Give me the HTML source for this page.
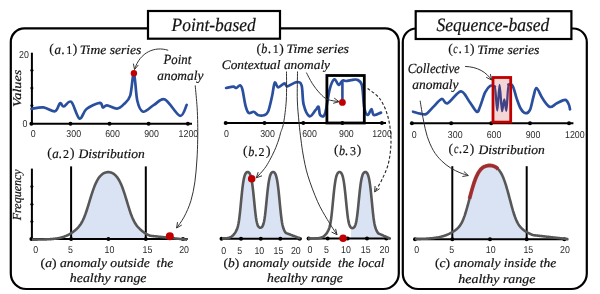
<!DOCTYPE html>
<html><head><meta charset="utf-8"><style>
html,body{margin:0;padding:0;background:#fff;}
svg{display:block;will-change:transform;}
.t{font-family:"Liberation Serif",serif;font-style:italic;fill:#111;stroke:#111;stroke-width:0.2px;}
.m{font-family:"Liberation Serif",serif;fill:#111;stroke:#111;stroke-width:0.16px;}
.n{font-family:"Liberation Sans",sans-serif;fill:#2a2a2a;}
svg text{text-rendering:geometricPrecision;white-space:pre;}
.u{font-style:normal;}
</style></head><body>
<svg width="600" height="294" viewBox="0 0 600 294">
<path d="M24.3,28.4 H385.3 A13.5,13.5 0 0 1 398.8,41.9 V273.5 A15.5,15.5 0 0 1 383.3,289.0 H26.3 A15.5,15.5 0 0 1 10.8,273.5 V41.9 A13.5,13.5 0 0 1 24.3,28.4 Z" fill="none" stroke="#000" stroke-width="2.2"/>
<path d="M416.3,28.5 H573.3 A13.5,13.5 0 0 1 586.8,42.0 V273.5 A15.5,15.5 0 0 1 571.3,289.0 H418.3 A15.5,15.5 0 0 1 402.8,273.5 V42.0 A13.5,13.5 0 0 1 416.3,28.5 Z" fill="none" stroke="#000" stroke-width="2.2"/>
<rect x="148" y="11" width="132" height="27.7" fill="#fff" stroke="#000" stroke-width="2.2"/>
<rect x="415.7" y="11.2" width="155.7" height="27.8" fill="#fff" stroke="#000" stroke-width="2.2"/>
<text x="171.5" y="31.2" font-size="18.8" class="t" textLength="84.3" lengthAdjust="spacingAndGlyphs">Point-based</text>
<text x="436.5" y="31.2" font-size="18.8" class="t" textLength="112.8" lengthAdjust="spacingAndGlyphs">Sequence-based</text>
<text x="49.20" y="52.90" font-size="13.5" class="m">(</text><text x="54.55" y="53.60" font-size="13.5" class="t" textLength="6.50" lengthAdjust="spacingAndGlyphs">a</text><text x="61.25" y="53.60" font-size="13.5" class="m">.</text><text x="66.21" y="53.60" font-size="12" class="m">1</text><text x="72.65" y="52.90" font-size="13.5" class="m">)</text>
<text x="79.8" y="53.7" font-size="13.0" class="t" textLength="61.6" lengthAdjust="spacingAndGlyphs">Time series</text>
<text transform="translate(21.1,106.9) rotate(-90)" font-size="11.8" class="t" textLength="37.3" lengthAdjust="spacingAndGlyphs">Values</text>
<line x1="31.9" y1="52.7" x2="31.9" y2="123.8" stroke="#000" stroke-width="2"/><circle cx="31.9" cy="70.3" r="1.5" fill="#000"/><circle cx="31.9" cy="88.0" r="1.5" fill="#000"/><circle cx="31.9" cy="105.6" r="1.5" fill="#000"/>
<line x1="31.4" y1="123.8" x2="192.0" y2="123.8" stroke="#000" stroke-width="2"/><circle cx="31.4" cy="123.8" r="2.0" fill="#000"/><circle cx="70.5" cy="123.8" r="2.0" fill="#000"/><circle cx="109.5" cy="123.8" r="2.0" fill="#000"/><circle cx="148.6" cy="123.8" r="2.0" fill="#000"/><circle cx="187.9" cy="123.8" r="2.0" fill="#000"/>
<text x="24.0" y="57.8" font-size="10.0" text-anchor="middle" class="n" textLength="9.8" lengthAdjust="spacingAndGlyphs">20</text>
<text x="25.0" y="126.9" font-size="10.0" text-anchor="middle" class="n" textLength="4.9" lengthAdjust="spacingAndGlyphs">0</text>
<text x="33.2" y="136.6" font-size="10.0" text-anchor="middle" class="n" textLength="4.9" lengthAdjust="spacingAndGlyphs">0</text>
<text x="73.7" y="136.6" font-size="10.0" text-anchor="middle" class="n" textLength="14.7" lengthAdjust="spacingAndGlyphs">300</text>
<text x="112.5" y="136.6" font-size="10.0" text-anchor="middle" class="n" textLength="14.7" lengthAdjust="spacingAndGlyphs">600</text>
<text x="151.5" y="136.6" font-size="10.0" text-anchor="middle" class="n" textLength="14.7" lengthAdjust="spacingAndGlyphs">900</text>
<text x="188.4" y="136.6" font-size="10.0" text-anchor="middle" class="n" textLength="19.6" lengthAdjust="spacingAndGlyphs">1200</text>
<path d="M31.5,108.8 C33.5,108.6 39.4,107.0 43.3,107.4 C47.2,107.8 52.2,112.0 55.0,111.3 C57.8,110.6 58.5,104.0 60.0,103.2 C61.5,102.4 61.8,106.7 63.7,106.5 C65.6,106.3 68.6,99.8 71.2,101.8 C73.8,103.8 76.9,117.3 79.4,118.5 C82.0,119.7 83.1,111.6 86.5,109.0 C89.9,106.4 97.1,103.2 99.8,102.9 C102.5,102.7 101.7,107.1 102.9,107.5 C104.1,107.9 104.7,105.1 107.0,105.3 C109.3,105.5 114.2,108.8 117.0,108.6 C119.8,108.4 121.9,106.1 124.1,103.9 C126.3,101.8 128.6,100.8 130.2,95.7 C131.8,90.6 132.7,72.5 133.9,73.3 C135.1,74.1 135.8,94.4 137.3,100.8 C138.8,107.2 140.3,111.0 143.1,111.7 C145.9,112.4 150.4,106.9 154.0,104.9 C157.6,102.9 160.6,97.7 164.9,99.5 C169.2,101.3 176.3,114.9 179.9,115.8 C183.5,116.7 185.6,106.7 186.7,104.9" fill="none" stroke="#2a4f9e" stroke-width="2.7" stroke-linejoin="round" stroke-linecap="round"/>
<circle cx="133.9" cy="73.3" r="3.2" fill="#c00000"/>
<text x="163.5" y="64.4" font-size="14.0" class="t" textLength="27.7" lengthAdjust="spacingAndGlyphs">Point</text>
<text x="157.3" y="80.4" font-size="13.5" class="t" textLength="46.1" lengthAdjust="spacingAndGlyphs">anomaly</text>
<text x="47.20" y="156.90" font-size="13.5" class="m">(</text><text x="52.25" y="157.60" font-size="13.5" class="t" textLength="6.50" lengthAdjust="spacingAndGlyphs">a</text><text x="58.55" y="157.60" font-size="13.5" class="m">.</text><text x="62.96" y="157.60" font-size="12" class="m">2</text><text x="69.95" y="156.90" font-size="13.5" class="m">)</text>
<text x="78.4" y="158.0" font-size="13.0" class="t" textLength="66.4" lengthAdjust="spacingAndGlyphs">Distribution</text>
<text transform="translate(20.6,220.2) rotate(-90)" font-size="12.3" class="t" textLength="50.8" lengthAdjust="spacingAndGlyphs">Frequency</text>
<path d="M71.5,233.0 L72.0,232.7 L72.5,232.3 L73.0,232.0 L73.5,231.6 L74.0,231.2 L74.5,230.8 L75.0,230.4 L75.5,230.0 L76.0,229.6 L76.5,229.1 L77.0,228.6 L77.5,228.1 L78.0,227.6 L78.5,227.0 L79.0,226.4 L79.5,225.8 L80.0,225.1 L80.5,224.4 L81.0,223.7 L81.5,222.8 L82.0,222.0 L82.5,221.0 L83.0,220.0 L83.5,218.9 L84.0,217.8 L84.5,216.5 L85.0,215.2 L85.5,213.9 L86.0,212.5 L86.5,211.0 L87.0,209.5 L87.5,207.9 L88.0,206.3 L88.5,204.7 L89.0,203.0 L89.5,201.3 L90.0,199.7 L90.5,198.1 L91.0,196.4 L91.5,194.9 L92.0,193.3 L92.5,191.8 L93.0,190.3 L93.5,188.9 L94.0,187.6 L94.5,186.3 L95.0,185.1 L95.5,183.9 L96.0,182.8 L96.5,181.8 L97.0,180.8 L97.5,179.9 L98.0,179.1 L98.5,178.3 L99.0,177.6 L99.5,176.9 L100.0,176.3 L100.5,175.8 L101.0,175.3 L101.5,174.8 L102.0,174.4 L102.5,174.0 L103.0,173.7 L103.5,173.4 L104.0,173.1 L104.5,172.9 L105.0,172.7 L105.5,172.5 L106.0,172.4 L106.5,172.3 L107.0,172.2 L107.5,172.1 L108.0,172.1 L108.5,172.1 L109.0,172.1 L109.5,172.2 L110.0,172.3 L110.5,172.4 L111.0,172.5 L111.5,172.7 L112.0,172.9 L112.5,173.2 L113.0,173.4 L113.5,173.7 L114.0,174.1 L114.5,174.5 L115.0,174.9 L115.5,175.4 L116.0,175.9 L116.5,176.5 L117.0,177.1 L117.5,177.7 L118.0,178.5 L118.5,179.3 L119.0,180.1 L119.5,181.0 L120.0,182.0 L120.5,183.0 L121.0,184.1 L121.5,185.3 L122.0,186.5 L122.5,187.8 L123.0,189.2 L123.5,190.6 L124.0,192.1 L124.5,193.6 L125.0,195.2 L125.5,196.8 L126.0,198.4 L126.5,200.0 L127.0,201.7 L127.5,203.3 L128.0,205.0 L128.5,206.6 L129.0,208.2 L129.5,209.8 L130.0,211.3 L130.5,212.8 L131.0,214.2 L131.5,215.5 L132.0,216.8 L132.5,218.0 L133.0,219.1 L133.5,220.2 L134.0,221.2 L134.5,222.1 L135.0,223.0 L135.5,223.8 L136.0,224.6 L136.5,225.3 L137.0,225.9 L137.5,226.6 L138.0,227.1 L138.5,227.7 L139.0,228.2 L139.5,228.7 L140.0,229.2 L140.5,229.6 L141.0,230.1 L141.5,230.5 L142.0,230.9 L142.5,231.3 L143.0,231.7 L143.5,232.1 L144.0,232.4 L144.5,232.8 L145.0,233.1 L145.5,233.4 L145.5,239.0 L71.5,239.0 Z" fill="#dae3f3" stroke="none"/>
<line x1="31.9" y1="168.6" x2="31.9" y2="238.5" stroke="#000" stroke-width="2"/><circle cx="31.9" cy="186.5" r="1.5" fill="#000"/><circle cx="31.9" cy="204.3" r="1.5" fill="#000"/><circle cx="31.9" cy="221.6" r="1.5" fill="#000"/>
<line x1="71.1" y1="166.4" x2="71.1" y2="239" stroke="#000" stroke-width="2"/>
<line x1="145.8" y1="166.4" x2="145.8" y2="239" stroke="#000" stroke-width="2"/>
<line x1="31.4" y1="239.1" x2="187.7" y2="239.1" stroke="#000" stroke-width="2"/><circle cx="31.4" cy="239.1" r="2.0" fill="#000"/><circle cx="71.1" cy="239.1" r="2.0" fill="#000"/><circle cx="108.4" cy="239.1" r="2.0" fill="#000"/><circle cx="145.8" cy="239.1" r="2.0" fill="#000"/><circle cx="183.0" cy="239.1" r="2.0" fill="#000"/>
<path d="M32.0,239.6 L32.5,239.6 L33.0,239.6 L33.5,239.6 L34.0,239.6 L34.5,239.6 L35.0,239.6 L35.5,239.6 L36.0,239.6 L36.5,239.6 L37.0,239.6 L37.5,239.6 L38.0,239.5 L38.5,239.5 L39.0,239.5 L39.5,239.5 L40.0,239.5 L40.5,239.5 L41.0,239.5 L41.5,239.5 L42.0,239.5 L42.5,239.5 L43.0,239.5 L43.5,239.5 L44.0,239.4 L44.5,239.4 L45.0,239.4 L45.5,239.4 L46.0,239.4 L46.5,239.4 L47.0,239.3 L47.5,239.3 L48.0,239.3 L48.5,239.3 L49.0,239.2 L49.5,239.2 L50.0,239.2 L50.5,239.1 L51.0,239.1 L51.5,239.1 L52.0,239.0 L52.5,239.0 L53.0,238.9 L53.5,238.9 L54.0,238.8 L54.5,238.8 L55.0,238.7 L55.5,238.6 L56.0,238.6 L56.5,238.5 L57.0,238.4 L57.5,238.3 L58.0,238.2 L58.5,238.2 L59.0,238.1 L59.5,237.9 L60.0,237.8 L60.5,237.7 L61.0,237.6 L61.5,237.5 L62.0,237.3 L62.5,237.2 L63.0,237.0 L63.5,236.9 L64.0,236.7 L64.5,236.5 L65.0,236.3 L65.5,236.1 L66.0,235.9 L66.5,235.7 L67.0,235.5 L67.5,235.3 L68.0,235.0 L68.5,234.8 L69.0,234.5 L69.5,234.2 L70.0,233.9 L70.5,233.6 L71.0,233.3 L71.5,233.0 L72.0,232.7 L72.5,232.3 L73.0,232.0 L73.5,231.6 L74.0,231.2 L74.5,230.8 L75.0,230.4 L75.5,230.0 L76.0,229.6 L76.5,229.1 L77.0,228.6 L77.5,228.1 L78.0,227.6 L78.5,227.0 L79.0,226.4 L79.5,225.8 L80.0,225.1 L80.5,224.4 L81.0,223.7 L81.5,222.8 L82.0,222.0 L82.5,221.0 L83.0,220.0 L83.5,218.9 L84.0,217.8 L84.5,216.5 L85.0,215.2 L85.5,213.9 L86.0,212.5 L86.5,211.0 L87.0,209.5 L87.5,207.9 L88.0,206.3 L88.5,204.7 L89.0,203.0 L89.5,201.3 L90.0,199.7 L90.5,198.1 L91.0,196.4 L91.5,194.9 L92.0,193.3 L92.5,191.8 L93.0,190.3 L93.5,188.9 L94.0,187.6 L94.5,186.3 L95.0,185.1 L95.5,183.9 L96.0,182.8 L96.5,181.8 L97.0,180.8 L97.5,179.9 L98.0,179.1 L98.5,178.3 L99.0,177.6 L99.5,176.9 L100.0,176.3 L100.5,175.8 L101.0,175.3 L101.5,174.8 L102.0,174.4 L102.5,174.0 L103.0,173.7 L103.5,173.4 L104.0,173.1 L104.5,172.9 L105.0,172.7 L105.5,172.5 L106.0,172.4 L106.5,172.3 L107.0,172.2 L107.5,172.1 L108.0,172.1 L108.5,172.1 L109.0,172.1 L109.5,172.2 L110.0,172.3 L110.5,172.4 L111.0,172.5 L111.5,172.7 L112.0,172.9 L112.5,173.2 L113.0,173.4 L113.5,173.7 L114.0,174.1 L114.5,174.5 L115.0,174.9 L115.5,175.4 L116.0,175.9 L116.5,176.5 L117.0,177.1 L117.5,177.7 L118.0,178.5 L118.5,179.3 L119.0,180.1 L119.5,181.0 L120.0,182.0 L120.5,183.0 L121.0,184.1 L121.5,185.3 L122.0,186.5 L122.5,187.8 L123.0,189.2 L123.5,190.6 L124.0,192.1 L124.5,193.6 L125.0,195.2 L125.5,196.8 L126.0,198.4 L126.5,200.0 L127.0,201.7 L127.5,203.3 L128.0,205.0 L128.5,206.6 L129.0,208.2 L129.5,209.8 L130.0,211.3 L130.5,212.8 L131.0,214.2 L131.5,215.5 L132.0,216.8 L132.5,218.0 L133.0,219.1 L133.5,220.2 L134.0,221.2 L134.5,222.1 L135.0,223.0 L135.5,223.8 L136.0,224.6 L136.5,225.3 L137.0,225.9 L137.5,226.6 L138.0,227.1 L138.5,227.7 L139.0,228.2 L139.5,228.7 L140.0,229.2 L140.5,229.6 L141.0,230.1 L141.5,230.5 L142.0,230.9 L142.5,231.3 L143.0,231.7 L143.5,232.1 L144.0,232.4 L144.5,232.8 L145.0,233.1 L145.5,233.4 L146.0,233.7 L146.5,234.0 L147.0,234.3 L147.5,234.6 L148.0,234.8 L148.5,235.1 L149.0,235.3 L149.5,235.5 L150.0,235.7 L150.5,235.8 L151.0,235.8 L151.5,235.9 L152.0,236.0 L152.5,236.0 L153.0,236.1 L153.5,236.1 L154.0,236.2 L154.5,236.2 L155.0,236.3 L155.5,236.3 L156.0,236.4 L156.5,236.4 L157.0,236.5 L157.5,236.5 L158.0,236.6 L158.5,236.7 L159.0,236.7 L159.5,236.8 L160.0,236.8 L160.5,236.9 L161.0,236.9 L161.5,237.0 L162.0,237.0 L162.5,237.1 L163.0,237.1 L163.5,237.2 L164.0,237.2 L164.5,237.3 L165.0,237.3 L165.5,237.4 L166.0,237.5 L166.5,237.5 L167.0,237.6 L167.5,237.6 L168.0,237.7 L168.5,237.7 L169.0,237.8 L169.5,237.8 L170.0,237.9 L170.5,237.9 L171.0,238.0 L171.5,238.0 L172.0,238.1 L172.5,238.2 L173.0,238.2 L173.5,238.3 L174.0,238.3 L174.5,238.4 L175.0,238.4 L175.5,238.5 L176.0,238.5 L176.5,238.6 L177.0,238.6 L177.5,238.7 L178.0,238.7 L178.5,238.8 L179.0,238.8 L179.5,238.9 L180.0,239.0 L180.5,239.0 L181.0,239.1 L181.5,239.1 L182.0,239.2 L182.5,239.2 L183.0,239.3 L183.5,239.3 L184.0,239.4 L184.5,239.4 L185.0,239.5 L185.5,239.5 L186.0,239.6 L186.5,239.6 L187.0,239.6" fill="none" stroke="#575757" stroke-width="2.6" stroke-linejoin="round"/>
<circle cx="169.8" cy="236.2" r="4" fill="#c00000"/>
<text x="35.6" y="253.2" font-size="10.0" text-anchor="middle" class="n" textLength="4.9" lengthAdjust="spacingAndGlyphs">0</text>
<text x="70.4" y="253.2" font-size="10.0" text-anchor="middle" class="n" textLength="4.9" lengthAdjust="spacingAndGlyphs">5</text>
<text x="109.4" y="253.2" font-size="10.0" text-anchor="middle" class="n" textLength="9.8" lengthAdjust="spacingAndGlyphs">10</text>
<text x="147.5" y="253.2" font-size="10.0" text-anchor="middle" class="n" textLength="9.8" lengthAdjust="spacingAndGlyphs">15</text>
<text x="184.1" y="253.2" font-size="10.0" text-anchor="middle" class="n" textLength="9.8" lengthAdjust="spacingAndGlyphs">20</text>
<text x="40.6" y="266.5" font-size="12.5" class="t" textLength="132.7" lengthAdjust="spacingAndGlyphs"><tspan class="u">(</tspan>a<tspan class="u">)</tspan> anomaly outside  the</text>
<text x="69.8" y="282.2" font-size="12.5" class="t" textLength="76.7" lengthAdjust="spacingAndGlyphs">healthy range</text>
<text x="256.60" y="52.60" font-size="13.5" class="m">(</text><text x="261.33" y="53.30" font-size="13.5" class="t" textLength="6.10" lengthAdjust="spacingAndGlyphs">b</text><text x="267.85" y="53.30" font-size="13.5" class="m">.</text><text x="272.81" y="53.30" font-size="12" class="m">1</text><text x="279.25" y="52.60" font-size="13.5" class="m">)</text>
<text x="286.6" y="53.2" font-size="13.0" class="t" textLength="62.4" lengthAdjust="spacingAndGlyphs">Time series</text>
<text x="221.7" y="68.7" font-size="13.0" class="t" textLength="108.4" lengthAdjust="spacingAndGlyphs">Contextual anomaly</text>
<line x1="225.7" y1="123.1" x2="386.0" y2="123.1" stroke="#000" stroke-width="2"/><circle cx="225.7" cy="123.1" r="2.0" fill="#000"/><circle cx="264.5" cy="123.1" r="2.0" fill="#000"/><circle cx="303.3" cy="123.1" r="2.0" fill="#000"/><circle cx="342.4" cy="123.1" r="2.0" fill="#000"/><circle cx="381.9" cy="123.1" r="2.0" fill="#000"/>
<text x="226.4" y="137.1" font-size="10.0" text-anchor="middle" class="n" textLength="4.9" lengthAdjust="spacingAndGlyphs">0</text>
<text x="267.5" y="137.1" font-size="10.0" text-anchor="middle" class="n" textLength="14.7" lengthAdjust="spacingAndGlyphs">300</text>
<text x="309.5" y="137.1" font-size="10.0" text-anchor="middle" class="n" textLength="14.7" lengthAdjust="spacingAndGlyphs">600</text>
<text x="346.4" y="137.1" font-size="10.0" text-anchor="middle" class="n" textLength="14.7" lengthAdjust="spacingAndGlyphs">900</text>
<text x="382.0" y="137.1" font-size="10.0" text-anchor="middle" class="n" textLength="19.6" lengthAdjust="spacingAndGlyphs">1200</text>
<path d="M226.1,88.0 C227.3,87.8 231.6,86.7 233.3,86.7 C235.0,86.7 235.2,88.2 236.3,88.0 C237.4,87.8 239.0,85.1 240.0,85.3 C241.0,85.5 241.5,86.0 242.4,89.4 C243.3,92.8 244.5,101.8 245.5,105.7 C246.5,109.6 247.2,111.9 248.6,112.9 C250.0,113.9 252.2,111.5 253.7,111.8 C255.2,112.1 256.1,114.3 257.8,114.9 C259.5,115.5 262.2,115.8 263.9,115.3 C265.6,114.8 266.6,114.9 268.0,111.8 C269.4,108.7 270.9,101.3 272.0,96.5 C273.1,91.7 273.7,84.2 274.7,82.7 C275.7,81.2 276.6,87.2 278.2,87.3 C279.8,87.4 282.8,83.5 284.3,83.3 C285.8,83.1 285.3,86.5 287.3,86.3 C289.3,86.1 294.1,82.4 296.5,82.2 C298.9,82.0 300.4,81.6 301.6,85.3 C302.8,89.0 302.3,99.1 303.6,104.3 C304.9,109.5 307.5,115.2 309.5,116.2 C311.5,117.2 314.0,111.8 315.5,110.2 C317.0,108.6 317.8,105.9 318.6,106.7 C319.4,107.5 319.1,113.8 320.2,115.0 C321.3,116.2 323.4,118.2 325.0,113.8 C326.6,109.4 328.2,94.5 329.8,88.8 C331.4,83.0 333.0,79.9 334.5,79.3 C336.0,78.7 337.3,84.8 338.6,85.0 C339.9,85.2 341.1,81.3 342.4,80.6 C343.7,79.9 345.0,81.1 346.4,81.0 C347.8,80.9 349.2,80.4 351.0,80.2 C352.8,80.0 355.3,79.0 357.1,79.8 C358.9,80.6 360.7,80.5 361.9,85.2 C363.1,89.9 363.3,102.9 364.3,107.9 C365.3,112.9 366.7,114.8 367.9,115.0 C369.1,115.2 370.4,109.0 371.4,109.0 C372.4,109.0 372.2,114.4 373.8,115.0 C375.4,115.6 379.8,113.0 381.0,112.6" fill="none" stroke="#2a4f9e" stroke-width="2.7" stroke-linejoin="round" stroke-linecap="round"/>
<path d="M342.4,82 L342.4,101" fill="none" stroke="#2a4f9e" stroke-width="2.6" stroke-linecap="round"/>
<rect x="326.9" y="75.5" width="37.4" height="47.5" fill="none" stroke="#000" stroke-width="2.8"/>
<circle cx="342.4" cy="102.4" r="3.4" fill="#c00000"/>
<text x="242.90" y="154.90" font-size="13.5" class="m">(</text><text x="248.33" y="155.60" font-size="13.5" class="t" textLength="6.10" lengthAdjust="spacingAndGlyphs">b</text><text x="254.25" y="155.60" font-size="13.5" class="m">.</text><text x="258.56" y="155.60" font-size="12" class="m">2</text><text x="265.95" y="154.90" font-size="13.5" class="m">)</text>
<path d="M222.0,238.5 L222.5,238.5 L223.0,238.4 L223.5,238.4 L224.0,238.4 L224.5,238.4 L225.0,238.4 L225.5,238.3 L226.0,238.3 L226.5,238.2 L227.0,238.2 L227.5,238.1 L228.0,238.0 L228.5,237.9 L229.0,237.7 L229.5,237.6 L230.0,237.4 L230.5,237.1 L231.0,236.9 L231.5,236.6 L232.0,236.2 L232.5,235.8 L233.0,235.3 L233.5,234.8 L234.0,234.2 L234.5,233.6 L235.0,232.9 L235.5,232.1 L236.0,231.2 L236.5,230.2 L237.0,229.1 L237.5,227.7 L238.0,225.8 L238.5,223.5 L239.0,220.5 L239.5,216.7 L240.0,212.3 L240.5,207.3 L241.0,202.1 L241.5,197.0 L242.0,192.1 L242.5,187.7 L243.0,183.8 L243.5,180.7 L244.0,178.1 L244.5,176.2 L245.0,174.7 L245.5,173.6 L246.0,172.9 L246.5,172.4 L247.0,172.1 L247.5,172.0 L248.0,172.0 L248.5,172.2 L249.0,172.6 L249.5,173.2 L250.0,174.1 L250.5,175.4 L251.0,177.1 L251.5,179.4 L252.0,182.2 L252.5,185.7 L253.0,189.8 L253.5,194.5 L254.0,199.4 L254.5,204.5 L255.0,209.4 L255.5,213.9 L256.0,217.7 L256.5,220.7 L257.0,223.0 L257.5,224.7 L258.0,225.9 L258.5,226.6 L259.0,227.2 L259.5,227.5 L260.0,227.7 L260.5,227.7 L261.0,227.6 L261.5,227.3 L262.0,226.9 L262.5,226.2 L263.0,225.2 L263.5,223.8 L264.0,221.7 L264.5,219.0 L265.0,215.5 L265.5,211.3 L266.0,206.5 L266.5,201.5 L267.0,196.4 L267.5,191.6 L268.0,187.3 L268.5,183.5 L269.0,180.4 L269.5,178.0 L270.0,176.0 L270.5,174.6 L271.0,173.5 L271.5,172.8 L272.0,172.3 L272.5,172.1 L273.0,172.0 L273.5,172.0 L274.0,172.2 L274.5,172.7 L275.0,173.3 L275.5,174.2 L276.0,175.5 L276.5,177.3 L277.0,179.6 L277.5,182.5 L278.0,186.1 L278.5,190.2 L279.0,195.0 L279.5,200.1 L280.0,205.3 L280.5,210.3 L281.0,215.0 L281.5,219.0 L282.0,222.4 L282.5,225.0 L283.0,227.0 L283.5,228.6 L284.0,229.8 L284.5,230.9 L285.0,231.8 L285.5,232.6 L286.0,233.0 L286.5,233.2 L287.0,233.4 L287.5,233.6 L288.0,233.8 L288.5,234.0 L289.0,234.1 L289.5,234.3 L290.0,234.5 L290.5,234.7 L291.0,234.9 L291.5,235.1 L292.0,235.3 L292.5,235.5 L293.0,235.7 L293.5,235.9 L294.0,236.0 L294.5,236.2 L295.0,236.4 L295.5,236.6 L296.0,236.8 L296.5,237.0 L297.0,237.2 L297.5,237.4 L298.0,237.6 L298.5,237.7 L299.0,237.9 L299.5,238.1 L300.0,238.3 L300.5,238.5 L300.5,238.5 L222.0,238.5 Z" fill="#dae3f3" stroke="none"/>
<line x1="221.0" y1="238.8" x2="301.7" y2="238.8" stroke="#000" stroke-width="2"/><circle cx="221.5" cy="238.8" r="2.0" fill="#000"/><circle cx="241.0" cy="238.8" r="2.0" fill="#000"/><circle cx="260.8" cy="238.8" r="2.0" fill="#000"/><circle cx="280.3" cy="238.8" r="2.0" fill="#000"/><circle cx="299.6" cy="238.8" r="2.0" fill="#000"/>
<path d="M222.0,238.5 L222.5,238.5 L223.0,238.4 L223.5,238.4 L224.0,238.4 L224.5,238.4 L225.0,238.4 L225.5,238.3 L226.0,238.3 L226.5,238.2 L227.0,238.2 L227.5,238.1 L228.0,238.0 L228.5,237.9 L229.0,237.7 L229.5,237.6 L230.0,237.4 L230.5,237.1 L231.0,236.9 L231.5,236.6 L232.0,236.2 L232.5,235.8 L233.0,235.3 L233.5,234.8 L234.0,234.2 L234.5,233.6 L235.0,232.9 L235.5,232.1 L236.0,231.2 L236.5,230.2 L237.0,229.1 L237.5,227.7 L238.0,225.8 L238.5,223.5 L239.0,220.5 L239.5,216.7 L240.0,212.3 L240.5,207.3 L241.0,202.1 L241.5,197.0 L242.0,192.1 L242.5,187.7 L243.0,183.8 L243.5,180.7 L244.0,178.1 L244.5,176.2 L245.0,174.7 L245.5,173.6 L246.0,172.9 L246.5,172.4 L247.0,172.1 L247.5,172.0 L248.0,172.0 L248.5,172.2 L249.0,172.6 L249.5,173.2 L250.0,174.1 L250.5,175.4 L251.0,177.1 L251.5,179.4 L252.0,182.2 L252.5,185.7 L253.0,189.8 L253.5,194.5 L254.0,199.4 L254.5,204.5 L255.0,209.4 L255.5,213.9 L256.0,217.7 L256.5,220.7 L257.0,223.0 L257.5,224.7 L258.0,225.9 L258.5,226.6 L259.0,227.2 L259.5,227.5 L260.0,227.7 L260.5,227.7 L261.0,227.6 L261.5,227.3 L262.0,226.9 L262.5,226.2 L263.0,225.2 L263.5,223.8 L264.0,221.7 L264.5,219.0 L265.0,215.5 L265.5,211.3 L266.0,206.5 L266.5,201.5 L267.0,196.4 L267.5,191.6 L268.0,187.3 L268.5,183.5 L269.0,180.4 L269.5,178.0 L270.0,176.0 L270.5,174.6 L271.0,173.5 L271.5,172.8 L272.0,172.3 L272.5,172.1 L273.0,172.0 L273.5,172.0 L274.0,172.2 L274.5,172.7 L275.0,173.3 L275.5,174.2 L276.0,175.5 L276.5,177.3 L277.0,179.6 L277.5,182.5 L278.0,186.1 L278.5,190.2 L279.0,195.0 L279.5,200.1 L280.0,205.3 L280.5,210.3 L281.0,215.0 L281.5,219.0 L282.0,222.4 L282.5,225.0 L283.0,227.0 L283.5,228.6 L284.0,229.8 L284.5,230.9 L285.0,231.8 L285.5,232.6 L286.0,233.0 L286.5,233.2 L287.0,233.4 L287.5,233.6 L288.0,233.8 L288.5,234.0 L289.0,234.1 L289.5,234.3 L290.0,234.5 L290.5,234.7 L291.0,234.9 L291.5,235.1 L292.0,235.3 L292.5,235.5 L293.0,235.7 L293.5,235.9 L294.0,236.0 L294.5,236.2 L295.0,236.4 L295.5,236.6 L296.0,236.8 L296.5,237.0 L297.0,237.2 L297.5,237.4 L298.0,237.6 L298.5,237.7 L299.0,237.9 L299.5,238.1 L300.0,238.3 L300.5,238.5" fill="none" stroke="#575757" stroke-width="2.6" stroke-linejoin="round"/>
<circle cx="251.7" cy="178.7" r="3.8" fill="#c00000"/>
<text x="223.7" y="253.5" font-size="10.0" text-anchor="middle" class="n" textLength="4.9" lengthAdjust="spacingAndGlyphs">0</text>
<text x="239.6" y="253.5" font-size="10.0" text-anchor="middle" class="n" textLength="4.9" lengthAdjust="spacingAndGlyphs">5</text>
<text x="259.3" y="253.5" font-size="10.0" text-anchor="middle" class="n" textLength="9.8" lengthAdjust="spacingAndGlyphs">10</text>
<text x="278.4" y="253.5" font-size="10.0" text-anchor="middle" class="n" textLength="9.8" lengthAdjust="spacingAndGlyphs">15</text>
<text x="295.8" y="253.5" font-size="10.0" text-anchor="middle" class="n" textLength="9.8" lengthAdjust="spacingAndGlyphs">20</text>
<text x="333.90" y="154.20" font-size="13.5" class="m">(</text><text x="339.03" y="154.90" font-size="13.5" class="t" textLength="6.10" lengthAdjust="spacingAndGlyphs">b</text><text x="344.85" y="154.90" font-size="13.5" class="m">.</text><text x="349.96" y="154.90" font-size="12" class="m">3</text><text x="356.65" y="154.20" font-size="13.5" class="m">)</text>
<path d="M351.0,227.6 L351.5,227.9 L352.0,228.1 L352.5,228.1 L353.0,228.0 L353.5,227.8 L354.0,227.4 L354.5,226.8 L355.0,225.9 L355.5,224.6 L356.0,222.8 L356.5,220.3 L357.0,217.1 L357.5,213.1 L358.0,208.6 L358.5,203.6 L359.0,198.5 L359.5,193.6 L360.0,189.0 L360.5,185.0 L361.0,181.6 L361.5,178.9 L362.0,176.8 L362.5,175.1 L363.0,173.9 L363.5,173.1 L364.0,172.5 L364.5,172.2 L365.0,172.0 L365.5,172.0 L366.0,172.1 L366.5,172.5 L367.0,173.0 L367.5,173.8 L368.0,175.0 L368.5,176.5 L369.0,178.6 L369.5,181.3 L370.0,184.6 L370.5,188.5 L371.0,193.0 L371.5,198.0 L372.0,203.2 L372.5,208.4 L373.0,213.2 L373.5,217.5 L374.0,221.1 L374.5,224.0 L375.0,226.2 L375.5,228.0 L376.0,229.3 L376.5,230.5 L377.0,231.4 L377.5,232.3 L378.0,233.0 L378.5,233.5 L379.0,233.7 L379.5,233.9 L380.0,234.1 L380.5,234.3 L381.0,234.6 L381.5,234.8 L382.0,235.0 L382.5,235.2 L383.0,235.4 L383.5,235.7 L384.0,235.9 L384.5,236.1 L385.0,236.3 L385.5,236.5 L386.0,236.8 L386.5,237.0 L387.0,237.2 L387.5,237.4 L388.0,237.6 L388.5,237.8 L389.0,238.1 L389.5,238.3 L390.0,238.5 L390.0,238.5 L351.0,238.5 Z" fill="#dae3f3" stroke="none"/>
<line x1="308.1" y1="238.5" x2="390.7" y2="238.5" stroke="#000" stroke-width="2"/><circle cx="308.6" cy="238.5" r="2.0" fill="#000"/><circle cx="327.7" cy="238.5" r="2.0" fill="#000"/><circle cx="347.6" cy="238.5" r="2.0" fill="#000"/><circle cx="367.0" cy="238.5" r="2.0" fill="#000"/><circle cx="386.3" cy="238.5" r="2.0" fill="#000"/>
<path d="M308.0,238.5 L308.5,238.5 L309.0,238.5 L309.5,238.5 L310.0,238.5 L310.5,238.5 L311.0,238.5 L311.5,238.5 L312.0,238.5 L312.5,238.5 L313.0,238.5 L313.5,238.5 L314.0,238.5 L314.5,238.5 L315.0,238.4 L315.5,238.4 L316.0,238.4 L316.5,238.4 L317.0,238.4 L317.5,238.3 L318.0,238.3 L318.5,238.2 L319.0,238.1 L319.5,238.1 L320.0,238.0 L320.5,237.8 L321.0,237.7 L321.5,237.5 L322.0,237.3 L322.5,237.1 L323.0,236.8 L323.5,236.5 L324.0,236.1 L324.5,235.7 L325.0,235.2 L325.5,234.7 L326.0,234.1 L326.5,233.5 L327.0,232.7 L327.5,231.9 L328.0,231.0 L328.5,230.0 L329.0,228.8 L329.5,227.3 L330.0,225.4 L330.5,222.9 L331.0,219.8 L331.5,215.9 L332.0,211.3 L332.5,206.3 L333.0,201.1 L333.5,196.0 L334.0,191.2 L334.5,186.8 L335.0,183.2 L335.5,180.1 L336.0,177.7 L336.5,175.8 L337.0,174.5 L337.5,173.5 L338.0,172.8 L338.5,172.3 L339.0,172.1 L339.5,172.0 L340.0,172.0 L340.5,172.3 L341.0,172.7 L341.5,173.4 L342.0,174.4 L342.5,175.7 L343.0,177.5 L343.5,179.9 L344.0,182.9 L344.5,186.5 L345.0,190.8 L345.5,195.5 L346.0,200.5 L346.5,205.6 L347.0,210.4 L347.5,214.8 L348.0,218.5 L348.5,221.4 L349.0,223.6 L349.5,225.2 L350.0,226.3 L350.5,227.1 L351.0,227.6 L351.5,227.9 L352.0,228.1 L352.5,228.1 L353.0,228.0 L353.5,227.8 L354.0,227.4 L354.5,226.8 L355.0,225.9 L355.5,224.6 L356.0,222.8 L356.5,220.3 L357.0,217.1 L357.5,213.1 L358.0,208.6 L358.5,203.6 L359.0,198.5 L359.5,193.6 L360.0,189.0 L360.5,185.0 L361.0,181.6 L361.5,178.9 L362.0,176.8 L362.5,175.1 L363.0,173.9 L363.5,173.1 L364.0,172.5 L364.5,172.2 L365.0,172.0 L365.5,172.0 L366.0,172.1 L366.5,172.5 L367.0,173.0 L367.5,173.8 L368.0,175.0 L368.5,176.5 L369.0,178.6 L369.5,181.3 L370.0,184.6 L370.5,188.5 L371.0,193.0 L371.5,198.0 L372.0,203.2 L372.5,208.4 L373.0,213.2 L373.5,217.5 L374.0,221.1 L374.5,224.0 L375.0,226.2 L375.5,228.0 L376.0,229.3 L376.5,230.5 L377.0,231.4 L377.5,232.3 L378.0,233.0 L378.5,233.5 L379.0,233.7 L379.5,233.9 L380.0,234.1 L380.5,234.3 L381.0,234.6 L381.5,234.8 L382.0,235.0 L382.5,235.2 L383.0,235.4 L383.5,235.7 L384.0,235.9 L384.5,236.1 L385.0,236.3 L385.5,236.5 L386.0,236.8 L386.5,237.0 L387.0,237.2 L387.5,237.4 L388.0,237.6 L388.5,237.8 L389.0,238.1 L389.5,238.3 L390.0,238.5" fill="none" stroke="#575757" stroke-width="2.6" stroke-linejoin="round"/>
<circle cx="343.1" cy="238.2" r="3.8" fill="#c00000"/>
<text x="310.0" y="252.5" font-size="10.0" text-anchor="middle" class="n" textLength="4.9" lengthAdjust="spacingAndGlyphs">0</text>
<text x="326.5" y="252.5" font-size="10.0" text-anchor="middle" class="n" textLength="4.9" lengthAdjust="spacingAndGlyphs">5</text>
<text x="346.0" y="252.5" font-size="10.0" text-anchor="middle" class="n" textLength="9.8" lengthAdjust="spacingAndGlyphs">10</text>
<text x="365.7" y="252.5" font-size="10.0" text-anchor="middle" class="n" textLength="9.8" lengthAdjust="spacingAndGlyphs">15</text>
<text x="384.5" y="252.5" font-size="10.0" text-anchor="middle" class="n" textLength="9.8" lengthAdjust="spacingAndGlyphs">20</text>
<text x="223.6" y="266.5" font-size="12.5" class="t" textLength="161.0" lengthAdjust="spacingAndGlyphs"><tspan class="u">(</tspan>b<tspan class="u">)</tspan> anomaly outside  the local</text>
<text x="267.1" y="281.5" font-size="12.5" class="t" textLength="75.8" lengthAdjust="spacingAndGlyphs">healthy range</text>
<text x="448.20" y="52.60" font-size="13.5" class="m">(</text><text x="453.33" y="53.30" font-size="13.5" class="t" textLength="4.40" lengthAdjust="spacingAndGlyphs">c</text><text x="458.55" y="53.30" font-size="13.5" class="m">.</text><text x="463.81" y="53.30" font-size="12" class="m">1</text><text x="469.95" y="52.60" font-size="13.5" class="m">)</text>
<text x="477.2" y="53.6" font-size="13.0" class="t" textLength="62.3" lengthAdjust="spacingAndGlyphs">Time series</text>
<text x="407.8" y="72.6" font-size="14.0" class="t" textLength="52.0" lengthAdjust="spacingAndGlyphs">Collective</text>
<text x="412.2" y="88.6" font-size="13.8" class="t" textLength="46.4" lengthAdjust="spacingAndGlyphs">anomaly</text>
<line x1="411.9" y1="123.3" x2="573.4" y2="123.3" stroke="#000" stroke-width="2"/><circle cx="411.9" cy="123.3" r="2.0" fill="#000"/><circle cx="451.2" cy="123.3" r="2.0" fill="#000"/><circle cx="491.2" cy="123.3" r="2.0" fill="#000"/><circle cx="530.0" cy="123.3" r="2.0" fill="#000"/><circle cx="569.0" cy="123.3" r="2.0" fill="#000"/>
<text x="414.3" y="137.6" font-size="10.0" text-anchor="middle" class="n" textLength="4.9" lengthAdjust="spacingAndGlyphs">0</text>
<text x="455.2" y="137.6" font-size="10.0" text-anchor="middle" class="n" textLength="14.7" lengthAdjust="spacingAndGlyphs">300</text>
<text x="494.0" y="137.6" font-size="10.0" text-anchor="middle" class="n" textLength="14.7" lengthAdjust="spacingAndGlyphs">600</text>
<text x="533.0" y="137.6" font-size="10.0" text-anchor="middle" class="n" textLength="14.7" lengthAdjust="spacingAndGlyphs">900</text>
<text x="574.8" y="137.6" font-size="10.0" text-anchor="middle" class="n" textLength="19.6" lengthAdjust="spacingAndGlyphs">1200</text>
<path d="M413.1,111.7 C414.3,112.0 418.0,113.2 420.2,113.6 C422.4,114.0 424.0,115.1 426.2,114.0 C428.4,112.9 430.7,109.4 433.3,106.9 C435.9,104.4 439.3,99.6 441.7,99.0 C444.1,98.4 444.4,104.6 447.6,103.3 C450.8,102.0 457.1,91.8 460.7,91.4 C464.3,91.0 466.3,97.6 469.0,101.0 C471.7,104.4 474.9,110.8 476.7,111.7 C478.5,112.7 478.6,109.9 480.0,106.7 C481.4,103.5 483.4,95.9 485.1,92.4 C486.8,88.9 488.6,86.8 490.2,85.8 C491.8,84.8 494.1,86.5 494.9,86.6 M508.4,84.6 C508.9,84.6 510.7,83.9 511.6,84.5 C512.5,85.1 512.9,86.1 513.7,88.4 C514.6,90.8 515.5,95.2 516.7,98.6 C517.9,102.0 519.3,106.4 520.8,108.8 C522.2,111.2 523.9,113.0 525.4,113.2 C526.9,113.4 528.6,112.6 530.0,109.8 C531.4,107.0 532.4,100.1 533.5,96.5 C534.6,92.9 535.0,87.7 536.5,88.0 C538.0,88.3 540.4,95.4 542.6,98.6 C544.8,101.8 547.4,106.1 549.8,106.9 C552.2,107.7 554.3,104.5 556.9,103.3 C559.5,102.1 563.2,99.6 565.2,99.8 C567.2,100.0 568.0,102.9 568.8,104.5 C569.6,106.1 569.8,108.5 570.0,109.3" fill="none" stroke="#2a4f9e" stroke-width="2.7" stroke-linejoin="round" stroke-linecap="round"/>
<path d="M494.9,86.6 C495.6,86.6 496.6,110.6 497.3,110.6 C498.0,110.6 498.9,85.0 499.6,85.0 C500.3,85.0 501.3,111.2 502.0,111.2 C502.7,111.2 503.6,99.3 504.3,99.3 C505.0,99.3 505.7,110.8 506.4,110.8 C507.1,110.8 507.7,84.8 508.4,84.8" fill="none" stroke="#2a4f9e" stroke-width="2.3" stroke-linejoin="round" stroke-linecap="round"/>
<rect x="493" y="77.5" width="17.7" height="44.6" fill="#c00000" fill-opacity="0.16" stroke="#c00000" stroke-width="2.8"/>
<text x="448.60" y="152.60" font-size="13.5" class="m">(</text><text x="454.03" y="153.30" font-size="13.5" class="t" textLength="4.40" lengthAdjust="spacingAndGlyphs">c</text><text x="458.85" y="153.30" font-size="13.5" class="m">.</text><text x="462.86" y="153.30" font-size="12" class="m">2</text><text x="469.85" y="152.60" font-size="13.5" class="m">)</text>
<text x="478.4" y="154.0" font-size="13.0" class="t" textLength="66.4" lengthAdjust="spacingAndGlyphs">Distribution</text>
<path d="M452.5,232.0 L453.0,231.7 L453.5,231.4 L454.0,231.1 L454.5,230.8 L455.0,230.4 L455.5,230.1 L456.0,229.7 L456.5,229.3 L457.0,228.8 L457.5,228.4 L458.0,227.9 L458.5,227.4 L459.0,226.8 L459.5,226.2 L460.0,225.5 L460.5,224.7 L461.0,223.9 L461.5,223.1 L462.0,222.1 L462.5,221.1 L463.0,219.9 L463.5,218.7 L464.0,217.4 L464.5,216.1 L465.0,214.6 L465.5,213.0 L466.0,211.4 L466.5,209.7 L467.0,208.0 L467.5,206.2 L468.0,204.4 L468.5,202.5 L469.0,200.6 L469.5,198.7 L470.0,196.8 L470.5,194.9 L471.0,193.1 L471.5,191.3 L472.0,189.5 L472.5,187.8 L473.0,186.1 L473.5,184.5 L474.0,182.9 L474.5,181.5 L475.0,180.1 L475.5,178.8 L476.0,177.5 L476.5,176.4 L477.0,175.3 L477.5,174.3 L478.0,173.3 L478.5,172.5 L479.0,171.7 L479.5,171.0 L480.0,170.3 L480.5,169.7 L481.0,169.1 L481.5,168.6 L482.0,168.2 L482.5,167.8 L483.0,167.4 L483.5,167.1 L484.0,166.8 L484.5,166.6 L485.0,166.4 L485.5,166.2 L486.0,166.0 L486.5,165.9 L487.0,165.8 L487.5,165.7 L488.0,165.6 L488.5,165.5 L489.0,165.5 L489.5,165.5 L490.0,165.5 L490.5,165.5 L491.0,165.6 L491.5,165.6 L492.0,165.7 L492.5,165.8 L493.0,166.0 L493.5,166.1 L494.0,166.3 L494.5,166.5 L495.0,166.7 L495.5,167.0 L496.0,167.3 L496.5,167.6 L497.0,168.0 L497.5,168.5 L498.0,168.9 L498.5,169.5 L499.0,170.1 L499.5,170.7 L500.0,171.4 L500.5,172.2 L501.0,173.0 L501.5,173.9 L502.0,174.9 L502.5,175.9 L503.0,177.1 L503.5,178.3 L504.0,179.6 L504.5,180.9 L505.0,182.4 L505.5,183.9 L506.0,185.4 L506.5,187.1 L507.0,188.8 L507.5,190.5 L508.0,192.4 L508.5,194.2 L509.0,196.1 L509.5,198.0 L510.0,199.8 L510.5,201.7 L511.0,203.6 L511.5,205.5 L512.0,207.3 L512.5,209.0 L513.0,210.8 L513.5,212.4 L514.0,214.0 L514.5,215.5 L515.0,216.9 L515.5,218.2 L516.0,219.5 L516.5,220.6 L517.0,221.7 L517.5,222.7 L518.0,223.6 L518.5,224.4 L519.0,225.2 L519.5,225.9 L520.0,226.5 L520.5,227.1 L521.0,227.7 L521.5,228.2 L522.0,228.7 L522.5,229.1 L523.0,229.5 L523.5,229.9 L524.0,230.3 L524.5,230.6 L525.0,231.0 L525.5,231.3 L526.0,231.6 L526.5,231.9 L526.5,239.0 L452.5,239.0 Z" fill="#dae3f3" stroke="none"/>
<line x1="452.3" y1="166.2" x2="452.3" y2="239" stroke="#000" stroke-width="2"/>
<line x1="526.7" y1="166.2" x2="526.7" y2="239" stroke="#000" stroke-width="2"/>
<line x1="415.0" y1="239.3" x2="568.4" y2="239.3" stroke="#000" stroke-width="2"/><circle cx="415.0" cy="239.3" r="2.0" fill="#000"/><circle cx="452.3" cy="239.3" r="2.0" fill="#000"/><circle cx="490.0" cy="239.3" r="2.0" fill="#000"/><circle cx="526.7" cy="239.3" r="2.0" fill="#000"/><circle cx="564.3" cy="239.3" r="2.0" fill="#000"/>
<path d="M415.0,238.9 L415.5,238.9 L416.0,238.9 L416.5,238.9 L417.0,238.9 L417.5,238.9 L418.0,238.9 L418.5,238.9 L419.0,238.9 L419.5,238.9 L420.0,238.9 L420.5,238.9 L421.0,238.8 L421.5,238.8 L422.0,238.8 L422.5,238.8 L423.0,238.8 L423.5,238.8 L424.0,238.7 L424.5,238.7 L425.0,238.7 L425.5,238.7 L426.0,238.7 L426.5,238.6 L427.0,238.6 L427.5,238.6 L428.0,238.6 L428.5,238.5 L429.0,238.5 L429.5,238.4 L430.0,238.4 L430.5,238.4 L431.0,238.3 L431.5,238.3 L432.0,238.2 L432.5,238.2 L433.0,238.1 L433.5,238.1 L434.0,238.0 L434.5,237.9 L435.0,237.9 L435.5,237.8 L436.0,237.7 L436.5,237.6 L437.0,237.6 L437.5,237.5 L438.0,237.4 L438.5,237.3 L439.0,237.2 L439.5,237.1 L440.0,237.0 L440.5,236.9 L441.0,236.7 L441.5,236.6 L442.0,236.5 L442.5,236.3 L443.0,236.2 L443.5,236.0 L444.0,235.9 L444.5,235.7 L445.0,235.5 L445.5,235.4 L446.0,235.2 L446.5,235.0 L447.0,234.8 L447.5,234.6 L448.0,234.4 L448.5,234.1 L449.0,233.9 L449.5,233.7 L450.0,233.4 L450.5,233.2 L451.0,232.9 L451.5,232.6 L452.0,232.3 L452.5,232.0 L453.0,231.7 L453.5,231.4 L454.0,231.1 L454.5,230.8 L455.0,230.4 L455.5,230.1 L456.0,229.7 L456.5,229.3 L457.0,228.8 L457.5,228.4 L458.0,227.9 L458.5,227.4 L459.0,226.8 L459.5,226.2 L460.0,225.5 L460.5,224.7 L461.0,223.9 L461.5,223.1 L462.0,222.1 L462.5,221.1 L463.0,219.9 L463.5,218.7 L464.0,217.4 L464.5,216.1 L465.0,214.6 L465.5,213.0 L466.0,211.4 L466.5,209.7 L467.0,208.0 L467.5,206.2 L468.0,204.4 L468.5,202.5 L469.0,200.6 L469.5,198.7 L470.0,196.8 L470.5,194.9 L471.0,193.1 L471.5,191.3 L472.0,189.5 L472.5,187.8 L473.0,186.1 L473.5,184.5 L474.0,182.9 L474.5,181.5 L475.0,180.1 L475.5,178.8 L476.0,177.5 L476.5,176.4 L477.0,175.3 L477.5,174.3 L478.0,173.3 L478.5,172.5 L479.0,171.7 L479.5,171.0 L480.0,170.3 L480.5,169.7 L481.0,169.1 L481.5,168.6 L482.0,168.2 L482.5,167.8 L483.0,167.4 L483.5,167.1 L484.0,166.8 L484.5,166.6 L485.0,166.4 L485.5,166.2 L486.0,166.0 L486.5,165.9 L487.0,165.8 L487.5,165.7 L488.0,165.6 L488.5,165.5 L489.0,165.5 L489.5,165.5 L490.0,165.5 L490.5,165.5 L491.0,165.6 L491.5,165.6 L492.0,165.7 L492.5,165.8 L493.0,166.0 L493.5,166.1 L494.0,166.3 L494.5,166.5 L495.0,166.7 L495.5,167.0 L496.0,167.3 L496.5,167.6 L497.0,168.0 L497.5,168.5 L498.0,168.9 L498.5,169.5 L499.0,170.1 L499.5,170.7 L500.0,171.4 L500.5,172.2 L501.0,173.0 L501.5,173.9 L502.0,174.9 L502.5,175.9 L503.0,177.1 L503.5,178.3 L504.0,179.6 L504.5,180.9 L505.0,182.4 L505.5,183.9 L506.0,185.4 L506.5,187.1 L507.0,188.8 L507.5,190.5 L508.0,192.4 L508.5,194.2 L509.0,196.1 L509.5,198.0 L510.0,199.8 L510.5,201.7 L511.0,203.6 L511.5,205.5 L512.0,207.3 L512.5,209.0 L513.0,210.8 L513.5,212.4 L514.0,214.0 L514.5,215.5 L515.0,216.9 L515.5,218.2 L516.0,219.5 L516.5,220.6 L517.0,221.7 L517.5,222.7 L518.0,223.6 L518.5,224.4 L519.0,225.2 L519.5,225.9 L520.0,226.5 L520.5,227.1 L521.0,227.7 L521.5,228.2 L522.0,228.7 L522.5,229.1 L523.0,229.5 L523.5,229.9 L524.0,230.3 L524.5,230.6 L525.0,231.0 L525.5,231.3 L526.0,231.6 L526.5,231.9 L527.0,232.2 L527.5,232.5 L528.0,232.8 L528.5,233.1 L529.0,233.3 L529.5,233.6 L530.0,233.8 L530.5,234.0 L531.0,234.3 L531.5,234.5 L532.0,234.7 L532.5,234.9 L533.0,235.1 L533.5,235.2 L534.0,235.2 L534.5,235.3 L535.0,235.4 L535.5,235.4 L536.0,235.5 L536.5,235.5 L537.0,235.6 L537.5,235.6 L538.0,235.7 L538.5,235.8 L539.0,235.8 L539.5,235.9 L540.0,235.9 L540.5,236.0 L541.0,236.0 L541.5,236.1 L542.0,236.1 L542.5,236.2 L543.0,236.3 L543.5,236.3 L544.0,236.4 L544.5,236.4 L545.0,236.5 L545.5,236.5 L546.0,236.6 L546.5,236.7 L547.0,236.7 L547.5,236.8 L548.0,236.8 L548.5,236.9 L549.0,236.9 L549.5,237.0 L550.0,237.1 L550.5,237.1 L551.0,237.2 L551.5,237.2 L552.0,237.3 L552.5,237.3 L553.0,237.4 L553.5,237.5 L554.0,237.5 L554.5,237.6 L555.0,237.6 L555.5,237.7 L556.0,237.7 L556.5,237.8 L557.0,237.9 L557.5,237.9 L558.0,238.0 L558.5,238.0 L559.0,238.1 L559.5,238.1 L560.0,238.2 L560.5,238.3 L561.0,238.3 L561.5,238.4 L562.0,238.4 L562.5,238.5 L563.0,238.5 L563.5,238.6 L564.0,238.7 L564.5,238.7 L565.0,238.8 L565.5,238.8 L566.0,238.9 L566.5,238.9 L567.0,239.0 L567.5,239.0 L568.0,239.0" fill="none" stroke="#575757" stroke-width="2.6" stroke-linejoin="round"/>
<path d="M469.5,198.7 L470.0,196.8 L470.5,194.9 L471.0,193.1 L471.5,191.3 L472.0,189.5 L472.5,187.8 L473.0,186.1 L473.5,184.5 L474.0,182.9 L474.5,181.5 L475.0,180.1 L475.5,178.8 L476.0,177.5 L476.5,176.4 L477.0,175.3 L477.5,174.3 L478.0,173.3 L478.5,172.5 L479.0,171.7 L479.5,171.0 L480.0,170.3 L480.5,169.7 L481.0,169.1 L481.5,168.6 L482.0,168.2 L482.5,167.8 L483.0,167.4 L483.5,167.1 L484.0,166.8 L484.5,166.6 L485.0,166.4 L485.5,166.2 L486.0,166.0 L486.5,165.9 L487.0,165.8 L487.5,165.7 L488.0,165.6 L488.5,165.5 L489.0,165.5 L489.5,165.5 L490.0,165.5 L490.5,165.5 L491.0,165.6 L491.5,165.6 L492.0,165.7 L492.5,165.8 L493.0,166.0 L493.5,166.1 L494.0,166.3 L494.5,166.5 L495.0,166.7 L495.5,167.0 L496.0,167.3 L496.5,167.6 L497.0,168.0 L497.5,168.5 L498.0,168.9" fill="none" stroke="#a82828" stroke-opacity="0.88" stroke-width="3.8" stroke-linecap="butt"/>
<text x="416.7" y="252.6" font-size="10.0" text-anchor="middle" class="n" textLength="4.9" lengthAdjust="spacingAndGlyphs">0</text>
<text x="451.7" y="252.6" font-size="10.0" text-anchor="middle" class="n" textLength="4.9" lengthAdjust="spacingAndGlyphs">5</text>
<text x="490.7" y="252.6" font-size="10.0" text-anchor="middle" class="n" textLength="9.8" lengthAdjust="spacingAndGlyphs">10</text>
<text x="528.3" y="252.6" font-size="10.0" text-anchor="middle" class="n" textLength="9.8" lengthAdjust="spacingAndGlyphs">15</text>
<text x="565.0" y="252.6" font-size="10.0" text-anchor="middle" class="n" textLength="9.8" lengthAdjust="spacingAndGlyphs">20</text>
<text x="435.0" y="266.7" font-size="12.5" class="t" textLength="121.4" lengthAdjust="spacingAndGlyphs"><tspan class="u">(</tspan>c<tspan class="u">)</tspan> anomaly inside the</text>
<text x="458.3" y="282.7" font-size="12.5" class="t" textLength="77.2" lengthAdjust="spacingAndGlyphs">healthy range</text>
<path d="M168.2,50.3 C155,46 140,52 134.5,69.5" fill="none" stroke="#333" stroke-width="1"/>
<path d="M133.4,63.6 L134.5,69.5 L138.4,64.9" fill="none" stroke="#333" stroke-width="1"/>
<path d="M195.2,85.4 C195.5,89.0 196.7,100.9 197.1,107.2 C197.5,113.5 197.6,118.0 197.7,123.5 C197.8,128.9 197.8,133.8 197.7,139.9 C197.6,146.0 197.4,153.0 196.9,160.0 C196.4,167.0 195.9,175.0 194.9,181.8 C193.9,188.6 192.7,194.9 190.9,200.8 C189.1,206.7 186.4,212.6 184.0,217.1 C181.6,221.6 177.8,226.2 176.6,228.0" fill="none" stroke="#333" stroke-width="1"/>
<path d="M177.5,222.1 L176.6,228.0 L181.8,225.0" fill="none" stroke="#333" stroke-width="1"/>
<path d="M306.4,72.6 C307.4,74.4 309.9,79.8 312.2,83.3 C314.4,86.8 317.3,90.6 319.9,93.3 C322.4,96.0 324.3,98.0 327.5,99.4 C330.7,100.8 337.1,101.3 339.0,101.7" fill="none" stroke="#333" stroke-width="1"/>
<path d="M333.2,103.3 L339.0,101.7 L334.2,98.1" fill="none" stroke="#333" stroke-width="1"/>
<path d="M286.5,71.5 C286.5,76.2 286.8,91.5 286.3,100.0 C285.8,108.5 284.6,117.0 283.7,122.4 C282.8,127.9 281.5,129.8 280.6,132.7 C279.8,135.6 279.6,137.1 278.6,140.0 C277.6,142.9 276.2,146.8 274.7,150.2 C273.2,153.6 271.3,157.3 269.6,160.4 C267.9,163.5 266.7,165.7 264.5,168.6 C262.3,171.5 257.7,176.3 256.3,177.8" fill="none" stroke="#333" stroke-width="1"/>
<path d="M258.2,172.1 L256.3,177.8 L262.0,175.8" fill="none" stroke="#333" stroke-width="1"/>
<path d="M297.5,71.5 C297.5,76.2 297.1,91.5 297.3,100.0 C297.6,108.5 298.4,115.7 299.0,122.4 C299.6,129.1 300.3,134.6 301.0,140.0 C301.7,145.4 302.1,149.0 303.2,155.0 C304.3,161.0 305.5,168.0 307.9,175.8 C310.3,183.6 314.4,194.4 317.6,201.7 C320.8,209.0 324.1,214.0 327.3,219.5 C330.5,225.0 335.4,232.2 337.0,234.7" fill="none" stroke="#333" stroke-width="1"/>
<path d="M331.6,232.1 L337.0,234.7 L335.6,228.9" fill="none" stroke="#333" stroke-width="1"/>
<path d="M367.6,88.5 C369.7,90.2 376.6,94.2 380.0,99.0 C383.4,103.8 386.2,110.2 388.0,117.0 C389.8,123.8 390.9,132.3 391.0,140.0 C391.1,147.7 390.1,156.2 388.5,163.0 C386.9,169.8 383.8,175.7 381.5,180.5 C379.2,185.3 375.8,190.1 374.6,192.0" fill="none" stroke="#222" stroke-width="1.1" stroke-dasharray="3,2"/>
<path d="M375.1,186.0 L374.6,192.0 L379.6,188.7" fill="none" stroke="#333" stroke-width="1"/>
<path d="M465.1,66.4 C478,67 486,72 491.6,80" fill="none" stroke="#333" stroke-width="1"/>
<path d="M486.2,77.3 L491.6,80.0 L490.4,74.1" fill="none" stroke="#333" stroke-width="1"/>
<path d="M420.1,100.7 C420.7,103.9 422.2,114.1 423.4,120.0 C424.6,125.9 425.5,131.2 427.2,136.3 C428.9,141.4 431.0,146.5 433.4,150.6 C435.8,154.7 438.6,157.9 441.5,160.8 C444.4,163.7 447.6,166.0 450.7,168.0 C453.8,170.0 457.0,171.4 459.9,172.7 C462.8,173.9 466.9,175.0 468.3,175.5" fill="none" stroke="#333" stroke-width="1"/>
<path d="M462.4,176.5 L468.3,175.5 L463.9,171.5" fill="none" stroke="#333" stroke-width="1"/>
</svg>
</body></html>
